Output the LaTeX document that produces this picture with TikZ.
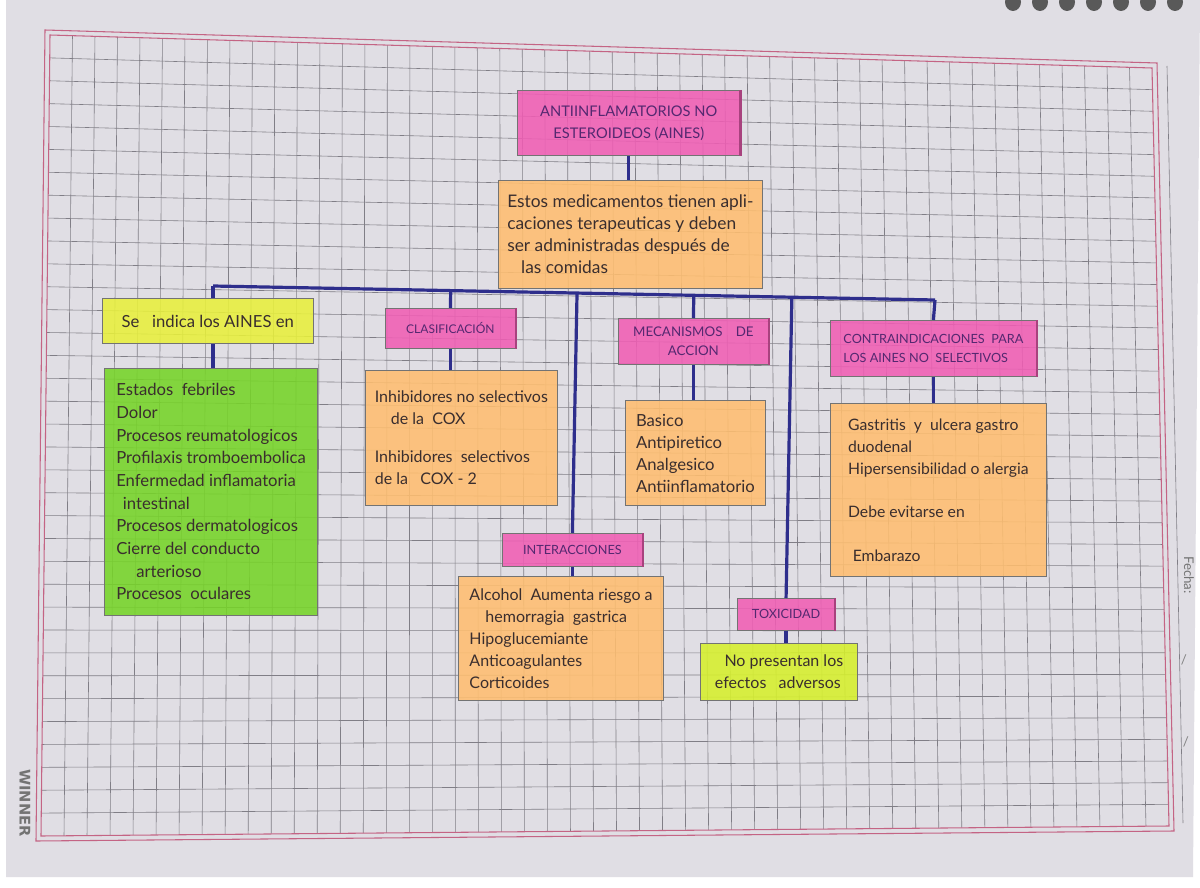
\documentclass[tikz,border=0pt]{standalone}
\usepackage{fontspec}
\setmainfont{Lato}
\newfontfamily\markfont{DejaVu Sans}
\usetikzlibrary{calc}

\definecolor{paper}{RGB}{224,222,228}
\definecolor{gridgray}{RGB}{128,126,134}
\definecolor{marginred}{RGB}{196,100,132}
\definecolor{hlpink}{RGB}{240,94,180}
\definecolor{hlorange}{RGB}{255,190,112}
\definecolor{hlgreen}{RGB}{118,212,40}
\definecolor{hlyellow}{RGB}{232,240,60}
\definecolor{hllime}{RGB}{214,240,44}
\definecolor{inkblue}{RGB}{46,46,140}
\definecolor{inkpurple}{RGB}{84,40,112}
\definecolor{inkbrown}{RGB}{58,46,46}

\tikzset{every picture/.style={line width=0.75pt}}
\tikzset{
  box/.style={draw=black!55, line width=0.6pt, fill opacity=0.88, text opacity=1, anchor=north west, inner sep=4pt},
  head/.style={box, fill=hlpink, text=inkpurple, font=\fontsize{9.5}{14}\selectfont, align=center},
  note/.style={box, fill=hlorange, text=inkbrown, font=\fontsize{12}{16.5}\selectfont, align=left},
  gridline/.style={draw=gridgray, line width=0.45pt},
  frameline/.style={draw=marginred, line width=0.8pt},
  pinkedge/.style={draw=hlpink!70!black, line width=1.8pt},
  link/.style={draw=inkblue, line width=2.4pt},
}

\begin{document}
\begin{tikzpicture}[x=0.75pt,y=0.75pt,yscale=-1,xscale=1]

\useasboundingbox (0,0) rectangle (1200,888);
\fill[white] (0,0) rectangle (1200,888);
\fill[paper] (6,0) -- (1200,0) -- (1193,877) -- (6,877) -- cycle;

\foreach \k in {0,...,6}
  \fill[black!65] (1013+27*\k,2) ellipse [x radius=8, y radius=9];

\coordinate (TL) at (50,35);
\coordinate (TR) at (1152,68);
\coordinate (BR) at (1169,826);
\coordinate (BL) at (41,836);

\foreach \i in {1,...,48}
  \draw[gridline] ($(TL)!\i/49!(TR)$) -- ($(BL)!\i/49!(BR)$);
\foreach \j in {1,...,34}
  \draw[gridline] ($(TL)!\j/35!(BL)$) -- ($(TR)!\j/35!(BR)$);
\draw[frameline] (TL) -- (TR) -- (BR) -- (BL) -- cycle;
\draw[frameline] (45,30) -- (1157,63) -- (1174,831) -- (36,841) -- cycle;
\draw[gridline] (1167,66) -- (1183,823);

\node (winner) [rotate=-90, text=black!55, font=\markfont\bfseries\fontsize{11}{12}\selectfont] at (25,803) {WINNER};
\node (fecha) [rotate=-90, text=black!55, font=\fontsize{10}{12}\selectfont] at (1189,575) {Fecha:};
\node (barra1) [text=black!50, font=\fontsize{10}{12}\selectfont] at (1184,660) {/};
\node (barra2) [text=black!50, font=\fontsize{10}{12}\selectfont] at (1186,742) {/};

% cajas
\node (titulo) [head, minimum width=167pt, minimum height=49pt, font=\fontsize{11}{16.5}\selectfont] at (517,90) {ANTIINFLAMATORIOS NO\\ESTEROIDEOS (AINES)};
\node (desc) [note, minimum width=198pt, minimum height=81pt, font=\fontsize{13}{16.5}\selectfont] at (498,180) {Estos medicamentos tienen apli-\\caciones terapeuticas y deben\\ser administradas después de\\\hspace*{0.8em}las comidas};

\node (indica) [box, fill=hlyellow, text=inkbrown, minimum width=158pt, minimum height=34pt, font=\fontsize{12.5}{16}\selectfont] at (102,298) {Se\ \ \ indica los AINES en};
\node (usos) [note, fill=hlgreen, minimum width=160pt, minimum height=185pt, font=\fontsize{12.5}{17}\selectfont] at (104,368) {Estados\ \ febriles\\Dolor\\Procesos reumatologicos\\Profilaxis tromboembolica\\Enfermedad inflamatoria\\\hspace*{0.4em}intestinal\\Procesos dermatologicos\\Cierre del conducto\\\hspace*{1.2em}arterioso\\Procesos\ \ oculares};

\node (clasif) [head, minimum width=97.5pt, minimum height=30pt, font=\fontsize{9}{12}\selectfont] at (385,308) {CLASIFICACIÓN};
\node (tipos) [note, minimum width=144pt, minimum height=101pt] at (365,370) {Inhibidores no selectivos\\\hspace*{1em}de la\ \ COX\\[12pt]Inhibidores\ \ selectivos\\de la\ \ \ COX - 2};

\node (mecan) [head, minimum width=112.5pt, minimum height=34.5pt, font=\fontsize{10}{14}\selectfont] at (618,318) {MECANISMOS\quad DE\\ACCION};
\node (efectos) [note, minimum width=105pt, minimum height=79pt, font=\fontsize{12.5}{16.5}\selectfont] at (625,400) {Basico\\Antipiretico\\Analgesico\\Antiinflamatorio};

\node (contra) [head, minimum width=154.5pt, minimum height=42pt, font=\fontsize{9.5}{14}\selectfont, align=left, inner xsep=2pt] at (830,320) {CONTRAINDICACIONES\ \ PARA\\LOS AINES NO\ \ SELECTIVOS};
\node (riesgos) [note, minimum width=162pt, minimum height=130pt, font=\fontsize{11.8}{16.5}\selectfont] at (830,403) {Gastritis\ \ y\ \ ulcera gastro\\duodenal\\Hipersensibilidad o alergia\\[16pt]Debe evitarse en\\[16pt]\hspace*{0.3em}Embarazo};

\node (interac) [head, minimum width=105pt, minimum height=25pt] at (502,533) {INTERACCIONES};
\node (farmacos) [note, minimum width=154pt, minimum height=93pt] at (458,576) {Alcohol\ \ Aumenta riesgo a\\\hspace*{1em}hemorragia\ \ gastrica\\Hipoglucemiante\\Anticoagulantes\\Corticoides};

\node (toxic) [head, minimum width=73pt, minimum height=24pt] at (737,598) {TOXICIDAD};
\node (adversos) [note, fill=hllime, minimum width=118pt, minimum height=43pt] at (700,643) {\hspace*{0.6em}No presentan los\\efectos\ \ \ adversos};

\foreach \n in {titulo,clasif,mecan,contra,interac,toxic}
  \draw[pinkedge] (\n.north east) -- (\n.south east);

% conectores
\coordinate (busL) at (213,286);
\coordinate (busR) at (935,300);

\draw[link] (titulo.south) -- (titulo.south |- desc.north);
\draw[link] (busL) -- (busR);
\draw[link] (busL) -- (busL |- indica.north);
\draw[link] (busL |- indica.south) -- (busL |- usos.north);
\draw[link] ($(busL)!(clasif.north)!(busR)$) -- (clasif.north);
\draw[link] (clasif.south) -- (clasif.south |- tipos.north);
\draw[link] ($(busL)!(interac.north)!(busR)$) -- (interac.north);
\draw[link] (interac.south) -- (interac.south |- farmacos.north);
\draw[link] ($(busL)!(mecan.north)!(busR)$) -- (mecan.north);
\draw[link] (mecan.south) -- (mecan.south |- efectos.north);
\draw[link] ($(busL)!(toxic.north)!(busR)$) -- (toxic.north);
\draw[link] (toxic.south) -- (toxic.south |- adversos.north);
\draw[link] (busR) -- (contra.north);
\draw[link] (contra.south) -- (contra.south |- riesgos.north);

\end{tikzpicture}
\end{document}
